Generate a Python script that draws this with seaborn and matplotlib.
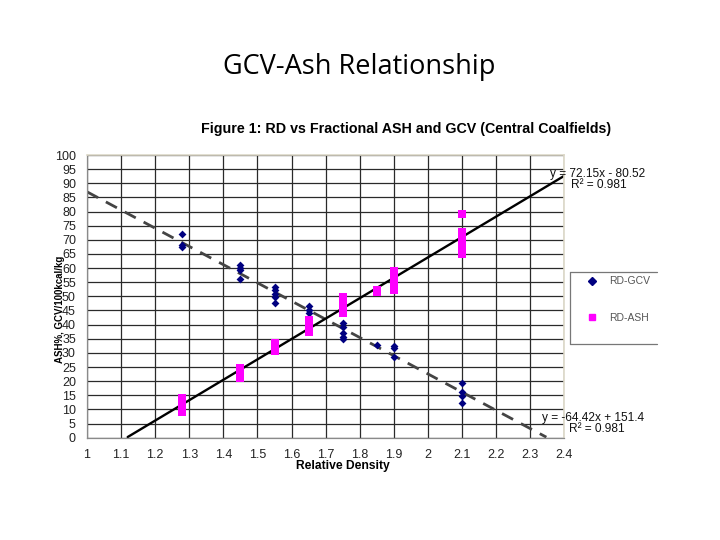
import numpy as np
import pandas as pd
import matplotlib
matplotlib.use("Agg")
import matplotlib.pyplot as plt
from matplotlib.lines import Line2D
import seaborn as sns

# ---------------- data ----------------
gcv_rd = [1.28, 1.28, 1.28,
          1.45, 1.45, 1.45, 1.45,
          1.55, 1.55, 1.55, 1.55, 1.55,
          1.65, 1.65, 1.65,
          1.75, 1.75, 1.75, 1.75, 1.75,
          1.85,
          1.90, 1.90, 1.90,
          2.10, 2.10, 2.10, 2.10]
gcv_val = [72.0, 68.2, 67.6,
           61.0, 60.2, 59.3, 56.0,
           53.3, 52.3, 51.0, 49.9, 47.8,
           46.6, 45.2, 44.2,
           40.6, 39.3, 37.1, 35.5, 34.8,
           32.8,
           32.6, 31.6, 28.7,
           19.2, 16.3, 14.9, 12.2]

ash_rd = [1.28, 1.28, 1.28, 1.28, 1.28,
          1.45, 1.45, 1.45, 1.45,
          1.55, 1.55, 1.55, 1.55,
          1.65, 1.65, 1.65, 1.65, 1.65,
          1.75, 1.75, 1.75, 1.75, 1.75, 1.75,
          1.85, 1.85,
          1.90, 1.90, 1.90, 1.90, 1.90, 1.90, 1.90,
          2.10, 2.10, 2.10, 2.10, 2.10, 2.10, 2.10]
ash_val = [14.0, 12.5, 11.2, 10.0, 9.0,
           24.5, 23.2, 22.0, 21.0,
           33.6, 32.5, 31.5, 30.8,
           41.5, 40.2, 39.0, 38.0, 37.4,
           49.6, 48.2, 47.0, 46.0, 45.0, 44.0,
           52.4, 51.6,
           59.0, 57.6, 56.2, 55.0, 54.0, 53.0, 52.4,
           79.0, 72.6, 71.2, 70.4, 67.8, 66.2, 65.0]

series_names = ["RD-GCV", "RD-ASH"]
trend_slope = [-64.42, 72.15]
trend_intercept = [151.4, -80.52]
trend_r2 = [0.981, 0.981]

x_ticks = [1.0, 1.1, 1.2, 1.3, 1.4, 1.5, 1.6, 1.7, 1.8, 1.9, 2.0, 2.1, 2.2, 2.3, 2.4]
x_tick_labels = ["1", "1.1", "1.2", "1.3", "1.4", "1.5", "1.6", "1.7", "1.8",
                 "1.9", "2", "2.1", "2.2", "2.3", "2.4"]
y_ticks = list(range(0, 101, 5))

df = pd.DataFrame({
    "rd": gcv_rd + ash_rd,
    "val": gcv_val + ash_val,
    "series": [series_names[0]] * len(gcv_rd) + [series_names[1]] * len(ash_rd),
})

# ---------------- figure ----------------
sns.set_style("white")
plt.rcParams["font.family"] = ["Liberation Sans", "DejaVu Sans"]

W, H = 720, 540
fig = plt.figure(figsize=(7.2, 5.4), dpi=100)
fig.patch.set_facecolor("white")

def fx(px):
    return px / W

def fy(py):
    return 1 - py / H

L, R, T, B = 87, 564.3, 155, 437.7
ax = fig.add_axes([fx(L), fy(B), fx(R - L), (B - T) / H])

ax.set_xlim(1.0, 2.4)
ax.set_ylim(0, 100)
ax.set_xticks(x_ticks)
ax.set_xticklabels(x_tick_labels)
ax.set_yticks(y_ticks)
ax.grid(True, color="#2a2a2a", lw=0.9)
ax.set_axisbelow(True)

for side in ["left", "bottom"]:
    ax.spines[side].set_color("#8a8a8a")
    ax.spines[side].set_linewidth(0.9)
for side in ["top", "right"]:
    ax.spines[side].set_color("#dcd8c8")
    ax.spines[side].set_linewidth(1.2)

ax.tick_params(axis="both", direction="out", length=4, width=0.8, color="#8a8a8a",
               labelsize=9, labelcolor="#222222", pad=4)
ax.tick_params(axis="x", pad=4)
ax.set_xlabel("")
ax.set_ylabel("")

# trend lines (from equation coefficients)
xs = np.linspace(1.0, 2.4, 400)
y_gcv = trend_slope[0] * xs + trend_intercept[0]
m = y_gcv >= 0
ax.plot(xs[m], y_gcv[m], color="#444444", lw=2.0, dashes=(4.5, 3.2), zorder=2)
y_ash = trend_slope[1] * xs + trend_intercept[1]
m = y_ash >= 0
ax.plot(xs[m], y_ash[m], color="black", lw=1.7, zorder=2)

# scatter points
palette = {"RD-GCV": "#000080", "RD-ASH": "#ff00ff"}
markers = {"RD-GCV": "D", "RD-ASH": "s"}
sizes = {"RD-GCV": 16, "RD-ASH": 26}
for name in series_names:
    sub = df[df["series"] == name]
    sns.scatterplot(data=sub, x="rd", y="val", color=palette[name],
                    marker=markers[name], s=sizes[name], linewidth=0,
                    legend=False, ax=ax, zorder=3, clip_on=False)
ax.set_xlabel("")
ax.set_ylabel("")

# ---------------- texts ----------------
fig.text(fx(359), fy(67), "GCV-Ash Relationship", ha="center", va="center",
         fontsize=19.5, family=["Open Sans", "DejaVu Sans"], color="black")
fig.text(fx(406.5), fy(128.5),
         "Figure 1: RD vs Fractional ASH and GCV (Central Coalfields)",
         ha="center", va="center", fontsize=10.3, fontweight="bold", color="black")
fig.text(fx(343), fy(466), "Relative Density", ha="center", va="center",
         fontsize=8.7, fontweight="bold", color="black")
fig.text(fx(60), fy(309), "ASH%, GCV/100kcal/kg", ha="center", va="center",
         rotation=90, fontsize=7, fontweight="bold", color="black")

# equations
fig.text(fx(550), fy(174), f"y = {trend_slope[1]:.2f}x - {abs(trend_intercept[1]):.2f}",
         ha="left", va="center", fontsize=8.6, color="#111111")
fig.text(fx(571), fy(185.5), f"R² = {trend_r2[1]:.3f}",
         ha="left", va="center", fontsize=8.6, color="#111111")
fig.text(fx(542), fy(418.5), f"y = {trend_slope[0]:.2f}x + {trend_intercept[0]:.1f}",
         ha="left", va="center", fontsize=8.6, color="#111111")
fig.text(fx(569), fy(429.5), f"R² = {trend_r2[0]:.3f}",
         ha="left", va="center", fontsize=8.6, color="#111111")

# ---------------- legend ----------------
bx0, by0, by1, bx1 = 570, 272.3, 344, 657
for (xa, ya, xb, yb) in [(bx0, by0, bx1, by0), (bx0, by1, bx1, by1), (bx0, by0, bx0, by1)]:
    fig.add_artist(Line2D([fx(xa), fx(xb)], [fy(ya), fy(yb)], color="#777777",
                          lw=0.9, transform=fig.transFigure))

handles = [Line2D([], [], marker=markers[n], color=palette[n], linestyle="none",
                  markersize=3.6 if n == "RD-GCV" else 4.4) for n in series_names]
leg = fig.legend(handles, series_names, loc="upper left",
                 bbox_to_anchor=(fx(578), fy(269)), frameon=False,
                 fontsize=7.5, labelspacing=2.55, handlelength=1.2,
                 handletextpad=1.1, borderpad=0.2)
for t in leg.get_texts():
    t.set_color("#555555")

fig.savefig("out.png", dpi=100, facecolor="white")
